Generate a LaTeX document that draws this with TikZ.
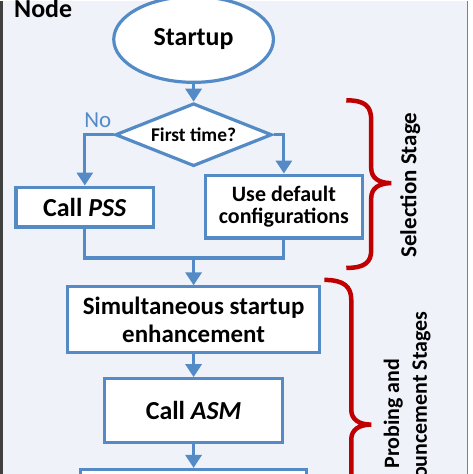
\documentclass[tikz,border=0pt]{standalone}
\usepackage{fontspec}
\setmainfont{Carlito}
\usetikzlibrary{shapes.geometric,arrows.meta}
\definecolor{bg}{RGB}{239,243,249}
\definecolor{fblue}{RGB}{84,139,198}
\definecolor{bred}{RGB}{192,0,0}
\begin{document}
\begin{tikzpicture}[x=1pt,y=-1pt,
  box/.style={draw=fblue,line width=3.2pt,fill=white,inner sep=0pt,align=center},
  conn/.style={draw=fblue,line width=3.2pt},
  arr/.style={conn,-{Triangle[width=16pt 0,length=13pt 0]}},
  brace/.style={draw=bred,line width=4.5pt},
  ]
\fill[bg] (0,0) rectangle (468,474);
\draw[gray,line width=1pt] (468.5,0) -- (468.5,474);
\fill[white] (469,0) rectangle (474,474);
\fill[black!75] (0,0) rectangle (3,474);
\useasboundingbox (0,0) rectangle (474,474);

\node[font=\bfseries\fontsize{26}{30}\selectfont,anchor=base west,inner sep=0pt] (title) at (14,17) {Node};

\node[box,ellipse,minimum width=160pt,minimum height=86pt,font=\bfseries\fontsize{26}{30}\selectfont] (start) at (194,39) {Startup};
\node[box,diamond,shape aspect=2.5,minimum width=157pt,minimum height=63pt,font=\bfseries\fontsize{19.5}{22}\selectfont] (dia) at (194,134.5) {First time?};
\node[box,minimum width=138pt,minimum height=40pt,font=\bfseries\fontsize{26}{30}\selectfont] (pss) at (85,207) {Call \textit{PSS}};
\node[box,minimum width=157pt,minimum height=63pt,font=\bfseries\fontsize{22}{22}\selectfont] (def) at (284.5,206.5) {Use default\\configurations};
\node[box,minimum width=252pt,minimum height=66pt,font=\bfseries\fontsize{25}{29}\selectfont] (sim) at (194,320) {Simultaneous startup\\enhancement};
\node[box,minimum width=178pt,minimum height=64pt,font=\bfseries\fontsize{26}{30}\selectfont] (asm) at (194,411) {Call \textit{ASM}};
\node[box,minimum width=227pt,minimum height=70pt] (last) at (194,505) {};

\coordinate (join) at (194,258);
\draw[arr] (start.south) -- (dia.north);
\draw[arr] (dia.west) -| (pss.north);
\draw[arr] (dia.east) -| (def.north);
\draw[conn] (pss.south) |- (join);
\draw[conn] (def.south) |- (join);
\draw[arr] (join) -- (sim.north);
\draw[arr] (sim.south) -- (asm.north);
\draw[arr] (asm.south) -- (last.north);

\node[font=\fontsize{23}{26}\selectfont,text=fblue,anchor=base,inner sep=0pt] (no) at (98,127) {No};

\draw[brace] (347,100) .. controls (366,100) and (372,106) .. (372,120) -- (372,168)
  .. controls (372,178) and (380,183) .. (392,183)
  .. controls (380,183) and (372,188) .. (372,198) -- (372,250)
  .. controls (372,262) and (366,268) .. (347,268);
\draw[brace] (325,280) .. controls (345,280) and (352,287) .. (352,300) -- (352,410)
  .. controls (352,420) and (360,425) .. (372,425)
  .. controls (360,425) and (352,430) .. (352,440) -- (352,550)
  .. controls (352,563) and (345,570) .. (325,570);

\node[font=\bfseries\fontsize{23}{26}\selectfont,rotate=90] (sel) at (411,185) {Selection Stage};
\node[font=\bfseries\fontsize{22}{28}\selectfont,rotate=90,align=center] (prob) at (408,414) {Probing and\\Announcement Stages};
\end{tikzpicture}
\end{document}
